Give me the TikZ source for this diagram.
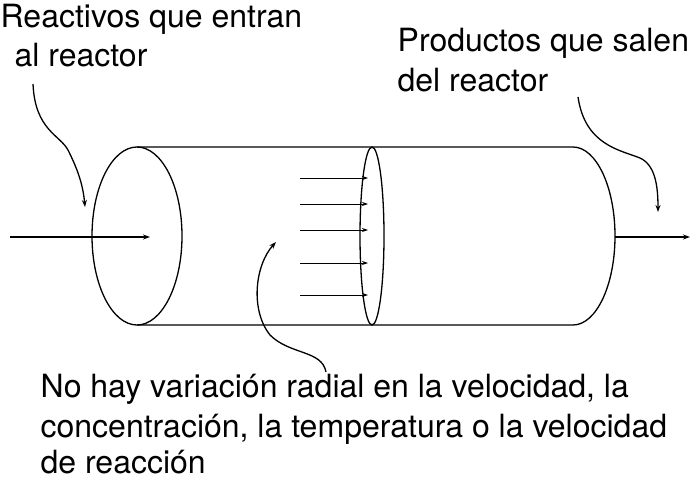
\documentclass[tikz,border=0pt]{standalone}
\usepackage{fontspec}
\setmainfont{TeX Gyre Heros}
\usetikzlibrary{arrows.meta}
\begin{document}
\begin{tikzpicture}[x=1pt,y=-1pt,line width=1.3pt,
  lbl/.style={anchor=base west,inner sep=0pt,font=\fontsize{32}{38}\selectfont},
  arr/.style={-{Stealth[length=7pt,width=5pt]}},
  flow/.style={-{Stealth[length=6pt,width=4pt]},line width=0.9pt}]
\useasboundingbox (0,0) rectangle (700,484);
% cylinder
\draw (137,236) ellipse [x radius=45, y radius=89];
\draw (137,147) -- (573,147) arc[start angle=-90,end angle=90,x radius=42,y radius=89] -- (137,325);
\draw (372,236) ellipse [x radius=12, y radius=89];
% velocity arrows
\foreach \yy in {178,204,230,263,295} \draw[flow] (300,\yy) -- (368,\yy);
% inlet / outlet
\coordinate (in0) at (10,237); \coordinate (in1) at (150,237);
\draw[arr] (in0) -- (in1);
\coordinate (out0) at (615,237); \coordinate (out1) at (690,237);
\draw[arr] (out0) -- (out1);
% labels
\node[lbl] (t1) at (0,28) {Reactivos que entran};
\node[lbl] (t2) at (14,67) {al reactor};
\node[lbl] (t3) at (397,52) {Productos que salen};
\node[lbl] (t4) at (397,92) {del reactor};
\node[lbl] (t5) at (40,397) {No hay variación radial en la velocidad, la};
\node[lbl] (t6) at (40,437) {concentración, la temperatura o la velocidad};
\node[lbl] (t7) at (40,473) {de reacción};
% curved arrows
\coordinate (c1) at (33,84); \coordinate (c1e) at (85,207);
\draw[arr] (c1) .. controls (35,130) and (60,135) .. (68,150) .. controls (78,170) and (83,185) .. (c1e);
\coordinate (c2) at (578,97); \coordinate (c2e) at (658,212);
\draw[arr] (c2) .. controls (585,145) and (620,150) .. (640,158) .. controls (655,165) and (658,185) .. (c2e);
\coordinate (c3) at (326,372); \coordinate (c3e) at (276,242);
\draw[arr] (c3) .. controls (322,350) and (290,355) .. (270,335) .. controls (250,310) and (255,265) .. (c3e);
\end{tikzpicture}
\end{document}
